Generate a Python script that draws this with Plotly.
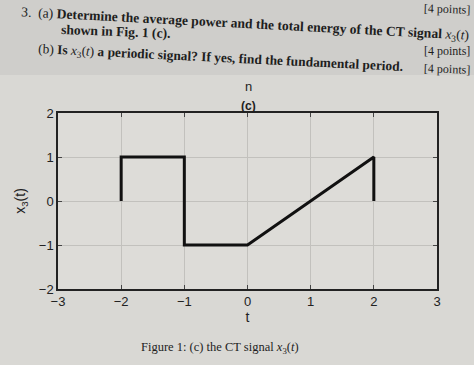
import plotly.graph_objects as go

# Data
t_values = [-2, -2, -1, -1, 0, 2, 2]
x_values = [0, 1, 1, -1, -1, 1, 0]
x_ticks = [-3, -2, -1, 0, 1, 2, 3]
y_ticks = [-2, -1, 0, 1, 2]

serif = "Liberation Serif, DejaVu Serif, serif"
sans = "Liberation Sans, Arial, sans-serif"

fig = go.Figure()
fig.add_trace(go.Scatter(x=t_values, y=x_values, mode="lines",
                         line=dict(color="#111111", width=3), showlegend=False,
                         hoverinfo="skip"))

fig.update_layout(
    width=474, height=365,
    margin=dict(l=58, r=37, t=113, b=76),
    paper_bgcolor="#d9d8d4",
    plot_bgcolor="#dddcd8",
    font=dict(family=sans, size=12, color="#222222"),
    xaxis=dict(range=[-3, 3], tickvals=x_ticks, ticks="inside", ticklen=4,
               showgrid=True, gridcolor="#c2c1bd", gridwidth=1, zeroline=False,
               showline=True, linecolor="#222222", linewidth=1.5, mirror="ticks",
               title=dict(text="t", font=dict(size=14), standoff=4),
               tickfont=dict(size=13)),
    yaxis=dict(range=[-2, 2], tickvals=y_ticks, ticks="inside", ticklen=4,
               showgrid=True, gridcolor="#c2c1bd", gridwidth=1, zeroline=False,
               showline=True, linecolor="#222222", linewidth=1.5, mirror="ticks",
               title=dict(text="x<sub>3</sub>(t)", font=dict(size=14), standoff=10),
               tickfont=dict(size=13)),
)
# top band of the page (separate sheet)
fig.add_shape(type="rect", xref="paper", yref="paper",
              x0=-58 / 379, x1=(474 - 58) / 379,
              y0=(365 - 76 - 75) / 176, y1=(365 - 76) / 176,
              fillcolor="#cfcecb", line=dict(width=0), layer="below")

def ann(text, x, y, size=12, family=serif, xanchor="left", color="#1e1e1e", angle=0):
    fig.add_annotation(text=text, xref="paper", yref="paper",
                       x=(x - 58) / 379, y=(365 - 76 - y) / 176,
                       xanchor=xanchor, yanchor="middle", showarrow=False,
                       textangle=angle,
                       font=dict(size=size, family=family, color=color))

ann("3.  (a) <b>Determine the average power and the total energy of the CT signal</b> <i>x</i><sub>3</sub>(<i>t</i>)",
    245, 24, size=13.6, xanchor="center", angle=3)
ann("[4 points]", 472, 9, size=12, xanchor="right", angle=2)
ann("<b>shown in Fig. 1 (c).</b>", 116, 32, size=13.6, xanchor="center", angle=2)
ann("[4 points]", 472, 51, size=12, xanchor="right")
ann("(b) <b>Is</b> <i>x</i><sub>3</sub>(<i>t</i>) <b>a periodic signal? If yes, find the fundamental period.</b>",
    220, 58, size=13.4, xanchor="center", angle=2.8)
ann("[4 points]", 472, 69, size=12, xanchor="right", angle=2)

ann("n", 248, 86, size=13, family=sans, xanchor="center")
ann("<b>(c)</b>", 248, 106, size=12, family=sans, xanchor="center")
ann("Figure 1: (c) the CT signal <i>x</i><sub>3</sub>(<i>t</i>)", 220, 348, size=12.5, xanchor="center")

fig.write_html("out.html", config={"displayModeBar": False},
               post_script="document.body.style.margin='0';")
